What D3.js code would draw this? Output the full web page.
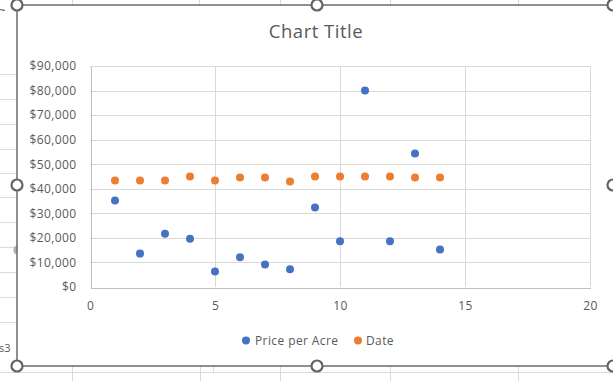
<!DOCTYPE html>
<html>
<head>
<meta charset="utf-8">
<script src="https://cdn.jsdelivr.net/npm/d3@7"></script>
<style>
  html, body { margin: 0; padding: 0; background: #fff; }
  svg { display: block; }
  text { font-family: "Open Sans", "DejaVu Sans", sans-serif; }
</style>
</head>
<body>
<svg id="chart" width="613" height="381"></svg>
<script>
// ---- data ----
const xValues = [1, 2, 3, 4, 5, 6, 7, 8, 9, 10, 11, 12, 13, 14];
const pricePerAcre = [35200, 13600, 21700, 19700, 6300, 12100, 9200, 7200, 32400, 18600, 80000, 18600, 54400, 15300];
const dateValues = [43400, 43400, 43400, 45000, 43400, 44600, 44600, 43000, 45000, 45000, 45000, 45000, 44600, 44600];
const xTicks = [0, 5, 10, 15, 20];
const yTicks = [0, 10000, 20000, 30000, 40000, 50000, 60000, 70000, 80000, 90000];
const seriesNames = ["Price per Acre", "Date"];
const seriesColors = ["#4472C4", "#ED7D31"];
const titleText = "Chart Title";

const svg = d3.select("#chart");
const W = 613, H = 381;

svg.append("rect").attr("width", W).attr("height", H).attr("fill", "#fff");

// spreadsheet grid peeking out around the chart
const sheet = svg.append("g").attr("stroke", "#dadada").attr("stroke-width", 1).attr("shape-rendering", "crispEdges");
[72, 199, 280, 390, 518].forEach(x => {
  sheet.append("line").attr("x1", x + 0.5).attr("x2", x + 0.5).attr("y1", 0).attr("y2", 5);
});
[72, 200, 280, 390, 518].forEach(x => {
  sheet.append("line").attr("x1", x + 0.5).attr("x2", x + 0.5).attr("y1", 366).attr("y2", 381);
});
sheet.append("line").attr("x1", 0).attr("x2", W).attr("y1", 372.5).attr("y2", 372.5);
sheet.append("line").attr("x1", 213.5).attr("x2", 213.5).attr("y1", 366).attr("y2", 373);
[74, 99, 124, 149, 173, 197, 222, 247, 272, 297, 322].forEach(y => {
  sheet.append("line").attr("x1", 0).attr("x2", 16).attr("y1", y + 0.5).attr("y2", y + 0.5);
});
svg.append("text").attr("x", -1).attr("y", 352).attr("font-size", 11).attr("fill", "#595959").text("s3");
svg.append("text").attr("x", -1).attr("y", 14).attr("font-size", 11).attr("fill", "#333").text("~");
svg.append("ellipse").attr("cx", 16).attr("cy", 250).attr("rx", 2.5).attr("ry", 4).attr("fill", "#b0b0b0");

// chart frame
svg.append("rect")
  .attr("x", 17).attr("y", 5).attr("width", 600).attr("height", 361)
  .attr("fill", "#fff").attr("stroke", "#6b6b6b").attr("stroke-width", 1.5);

// title
svg.append("text")
  .attr("x", 316).attr("y", 38)
  .attr("text-anchor", "middle")
  .attr("font-size", 18.5)
  .attr("letter-spacing", 0.5)
  .attr("fill", "#595959")
  .text(titleText);

// scales
const x = d3.scaleLinear().domain([0, 20]).range([90, 590]);
const y = d3.scaleLinear().domain([0, 90000]).range([287, 66]);

// gridlines
const grid = svg.append("g").attr("shape-rendering", "crispEdges");
grid.selectAll(".hg").data(yTicks.filter(d => d > 0)).join("line")
  .attr("x1", x(0)).attr("x2", x(20))
  .attr("y1", d => Math.round(y(d)) + 0.5).attr("y2", d => Math.round(y(d)) + 0.5)
  .attr("stroke", "#d9d9d9");
grid.selectAll(".vg").data(xTicks.filter(d => d > 0)).join("line")
  .attr("x1", d => Math.round(x(d)) + 0.5).attr("x2", d => Math.round(x(d)) + 0.5)
  .attr("y1", y(90000)).attr("y2", y(0))
  .attr("stroke", "#d9d9d9");

// axes
const fmt = d => "$" + d3.format(",")(d);
const yAxis = svg.append("g")
  .attr("transform", `translate(${Math.round(x(0)) + 0.5},0)`)
  .call(d3.axisLeft(y).tickValues(yTicks).tickFormat(fmt).tickSize(0).tickPadding(14));
const xAxis = svg.append("g")
  .attr("transform", `translate(0,${Math.round(y(0)) + 0.5})`)
  .call(d3.axisBottom(x).tickValues(xTicks).tickFormat(d3.format("d")).tickSize(0).tickPadding(14));
[yAxis, xAxis].forEach(a => {
  a.select(".domain").attr("stroke", "#bfbfbf").attr("shape-rendering", "crispEdges");
  a.selectAll("text").attr("font-size", 12).attr("fill", "#595959")
    .attr("letter-spacing", 0.4)
    .attr("font-family", "\"Open Sans\", \"DejaVu Sans\", sans-serif");
});

// points
const series = [pricePerAcre, dateValues];
series.forEach((vals, i) => {
  svg.append("g").selectAll("circle").data(vals).join("circle")
    .attr("cx", (d, j) => x(xValues[j]))
    .attr("cy", d => y(d))
    .attr("r", 4)
    .attr("fill", seriesColors[i]);
});

// legend
const legendPos = [{cx: 246, tx: 255}, {cx: 358, tx: 366}];
seriesNames.forEach((name, i) => {
  svg.append("circle").attr("cx", legendPos[i].cx).attr("cy", 340.5).attr("r", 4).attr("fill", seriesColors[i]);
  svg.append("text").attr("x", legendPos[i].tx).attr("y", 344.5)
    .attr("font-size", 12).attr("letter-spacing", 0.4).attr("fill", "#595959").text(name);
});

// selection handles
const handles = [[17, 5], [317, 5], [613, 5], [17, 185], [613, 185], [17, 366], [317, 366], [613, 366]];
svg.append("g").selectAll("circle").data(handles).join("circle")
  .attr("cx", d => d[0]).attr("cy", d => d[1]).attr("r", 5.5)
  .attr("fill", "#fff").attr("stroke", "#636363").attr("stroke-width", 2.2);
</script>
</body>
</html>
